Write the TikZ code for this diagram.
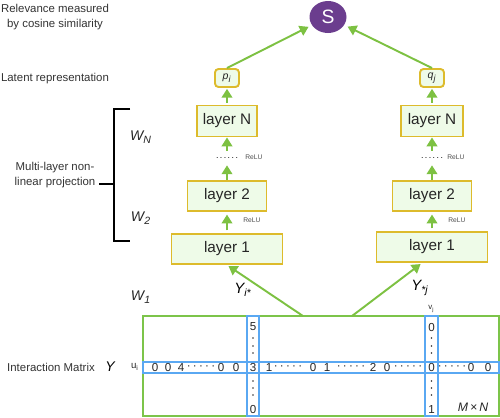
\documentclass[tikz,border=0pt]{standalone}
\usepackage{fontspec}
\setmainfont{Liberation Sans}
\usetikzlibrary{arrows.meta,shapes.geometric}
\definecolor{arrowgreen}{HTML}{7DC142}
\definecolor{matgreen}{HTML}{7CC44A}
\definecolor{boxgold}{HTML}{DDBB2C}
\definecolor{boxfill}{HTML}{EEFBE8}
\definecolor{gridblue}{HTML}{5AA8F2}
\definecolor{simpurple}{HTML}{6B3D8E}
\newcommand{\dotrun}{·\kern1.3pt·\kern1.3pt·\kern1.3pt·\kern1.3pt·}
\tikzset{
  layerbox/.style={draw=boxgold, fill=boxfill, line width=1.1pt, inner sep=0pt, minimum height=0.6cm, font=\fontsize{8.7}{10}\selectfont, text=black!85},
  latent/.style={layerbox, rounded corners=2pt, minimum width=0.48cm, minimum height=0.36cm, font=\fontsize{6}{7}\selectfont\itshape},
  flow/.style={draw=arrowgreen, line width=1.1pt, -{Triangle[width=6pt,length=5pt]}},
  note/.style={font=\fontsize{6.5}{8.5}\selectfont, align=center, text=black!80},
  relu/.style={font=\fontsize{3.8}{4}\selectfont, text=black!70, inner sep=0pt},
  gap/.style={font=\fontsize{5}{5}\selectfont, inner sep=0pt, minimum height=0.28cm},
  wlab/.style={font=\fontsize{8}{9}\selectfont\itshape, text=black!85},
  entry/.style={font=\fontsize{6.6}{7}\selectfont, inner sep=0pt, text=black!85},
}
\begin{document}
\begin{tikzpicture}[x=0.02cm,y=-0.02cm]
        \useasboundingbox (0,0) rectangle (500,417);
        % left labels
        \node[note] (rel) at (55,17) {Relevance measured\\by cosine similarity};
        \node[note] (lat) at (55,79) {Latent representation};
        \node[note] (proj) at (55,175) {Multi-layer non-\\linear projection};
        \node[note] (im) at (51,367) {Interaction Matrix};
        \draw[line width=1pt] (130,109) -- (114,109) -- (114,241) -- (130,241) ;
        \draw[line width=1pt] (99,184) -- (114,184) ;
        \node[wlab] (WN) at (141,137) {W\textsubscript{N}};
        \node[wlab] (W2) at (141,218) {W\textsubscript{2}};
        \node[wlab] (W1) at (141,297) {W\textsubscript{1}};

        % similarity
        \node[ellipse, fill=simpurple, minimum width=0.74cm, minimum height=0.64cm, inner sep=0pt, text=white, font=\fontsize{11}{12}\selectfont] (S) at (328,17) {S};

        % left tower
        \node[latent] (Pa) at (227,78) {p\textsubscript{i}};
        \node[layerbox, minimum width=1.2cm, minimum height=0.62cm] (LNa) at (227,121) {layer N};
        \node[gap] (Da) at (227,158) {.\,.\,.\,.\,.\,.};
        \node[relu, anchor=west] (Ra) at (245,157) {ReLU};
        \node[layerbox, minimum width=1.58cm] (L2a) at (227,196) {layer 2};
        \node[relu, anchor=west] (Rb) at (243,220) {ReLU};
        \node[layerbox, minimum width=2.22cm] (L1a) at (227,249) {layer 1};

        % right tower
        \node[latent] (Pb) at (432,78) {q\textsubscript{j}};
        \node[layerbox, minimum width=1.24cm, minimum height=0.62cm] (LNb) at (432,121) {layer N};
        \node[gap] (Db) at (432,158) {.\,.\,.\,.\,.\,.};
        \node[relu, anchor=west] (Rc) at (447,157) {ReLU};
        \node[layerbox, minimum width=1.58cm] (L2b) at (432,196) {layer 2};
        \node[relu, anchor=west] (Rd) at (448,220) {ReLU};
        \node[layerbox, minimum width=2.22cm] (L1b) at (432,247) {layer 1};

        \foreach \t in {a,b}{
          \draw[flow, shorten >=2pt] (P\t.north) -- (S) ;
          \draw[flow, shorten <=1pt, shorten >=0.5pt] (LN\t.north) -- (P\t.south) ;
          \draw[flow] (D\t.north) -- (LN\t.south) ;
          \draw[flow] (L2\t.north) -- (D\t.south) ;
          \draw[flow, shorten <=1.5pt, shorten >=1.5pt] (L1\t.north) -- (L2\t.south) ;
        }

        % interaction matrix
        \coordinate (Ma) at (303,316);
        \coordinate (Mb) at (352,316);
        \draw[matgreen, line width=0.8pt] (143,316) rectangle (499,416) ;
        \draw[gridblue, line width=1pt] (143,362) rectangle (499,373) ;
        \draw[gridblue, line width=1pt] (247,316) rectangle (259,416) ;
        \draw[gridblue, line width=1pt] (425,316) rectangle (438,416) ;
        \draw[flow, shorten >=1pt] (Ma) -- (L1a.south) ;
        \draw[flow, shorten >=1pt] (Mb) -- ([xshift=-0.2cm]L1b.south) ;
        \node[font=\fontsize{8.5}{9}\selectfont\itshape] (Yi) at (243,290) {Y\textsubscript{i*}};
        \node[font=\fontsize{8.5}{9}\selectfont\itshape] (Yj) at (420,288) {Y\textsubscript{*j}};
        \node[font=\fontsize{8}{9}\selectfont\itshape] (Ym) at (110,367) {Y};
        \node[entry, font=\fontsize{5.5}{6}\selectfont] (ui) at (135,367) {u\textsubscript{i}};
        \node[entry, font=\fontsize{4.5}{5}\selectfont] (vj) at (431.5,309) {v\textsubscript{j}};
        \node[entry, font=\fontsize{7}{8}\selectfont\itshape] (MN) at (473,407) {M\,×\,N};

        \path[every node/.style=entry]
          (155,367.5) node (r1) {0} (168,367.5) node (r2) {0} (181,367.5) node (r3) {4}
          (201,367.5) node (r4) {\dotrun} (221,367.5) node (r5) {0} (236,367.5) node (r6) {0}
          (253,367.5) node (r7) {3} (269,367.5) node (r8) {1} (288,367.5) node (r9) {\dotrun}
          (313,367.5) node (r10) {0} (327,367.5) node (r11) {1} (351,367.5) node (r12) {\dotrun}
          (373,367.5) node (r13) {2} (387,367.5) node (r14) {0} (408,367.5) node (r15) {\dotrun}
          (431.5,367.5) node (r16) {0} (452,367.5) node (r17) {\dotrun}
          (471,367.5) node (r18) {0} (488,367.5) node (r19) {0}
          (253,327) node (c1) {5} (253,409) node (c2) {0}
          (431.5,327) node (c3) {0} (431.5,409) node (c4) {1} ;
        \fill[black!80] (253,338) circle (0.9) (253,346) circle (0.9) (253,353) circle (0.9)
          (253,381) circle (0.9) (253,388) circle (0.9) (253,395) circle (0.9)
          (431.5,338) circle (0.9) (431.5,346) circle (0.9) (431.5,353) circle (0.9)
          (431.5,381) circle (0.9) (431.5,388) circle (0.9) (431.5,395) circle (0.9) ;
\end{tikzpicture}
\end{document}
